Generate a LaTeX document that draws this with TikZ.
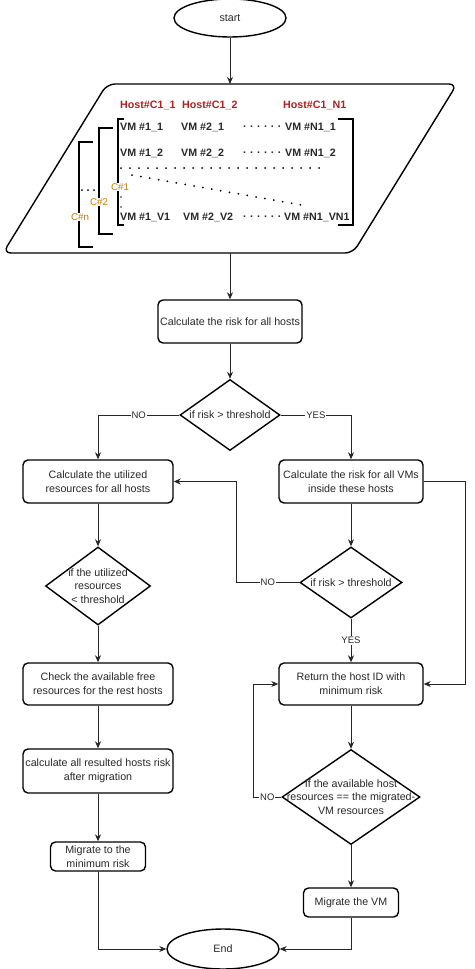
\documentclass[tikz,border=0pt]{standalone}
\usepackage{fontspec}
\setmainfont{Liberation Sans}
\usetikzlibrary{shapes.geometric,arrows.meta}
\definecolor{hostred}{RGB}{180,30,30}
\definecolor{corange}{RGB}{204,122,0}
\definecolor{txt}{RGB}{40,40,40}
\begin{document}
\fontsize{10.7}{13.7}\selectfont
\begin{tikzpicture}[x=1pt,y=-1pt,
  proc/.style={draw, line width=1.4pt, rounded corners=5pt, align=center, inner sep=0pt, text=txt},
  dia/.style={diamond, draw, line width=1.4pt, inner sep=0pt},
  term/.style={ellipse, draw, line width=1.4pt, inner sep=0pt, text=txt},
  conn/.style={line width=0.9pt, draw=black!85, -{Stealth[length=7pt,width=6pt]}},
  lbl/.style={fill=white, inner sep=1pt, text=txt, font=\fontsize{9.5}{11}\selectfont},
  dtext/.style={align=center, inner sep=0pt, text=txt},
  hdr/.style={anchor=west, inner sep=0pt, text=hostred, font=\bfseries},
  vmt/.style={anchor=west, inner sep=0pt, text=txt, font=\bfseries},
  clbl/.style={fill=white, inner sep=0.6pt, text=corange, font=\fontsize{9.8}{11}\selectfont},
  brk/.style={line width=1.6pt},
  dotl/.style={line width=2pt, line cap=round, dash pattern=on 0pt off 9pt}
]
\useasboundingbox (0,0) rectangle (474,969);

% start
\node[term, minimum width=112, minimum height=38] (start) at (230,18) {start};

% input parallelogram
\draw[line width=1.4pt, rounded corners=8pt] (107,84) -- (457,84) -- (353,253) -- (3,253) -- cycle;
\coordinate (ptop) at (230,84);
\coordinate (pbot) at (230,253);

% headers
\node[hdr] (h1) at (120,105) {Host\#C1\_1};
\node[hdr] (h2) at (182,105) {Host\#C1\_2};
\node[hdr] (h3) at (283,105) {Host\#C1\_N1};
% VM rows
\node[vmt] (v11) at (120,127) {VM \#1\_1};
\node[vmt] (v21) at (181,127) {VM \#2\_1};
\node[vmt] (e1) at (243,127) {. . . . . .};
\node[vmt] (vn1) at (285,127) {VM \#N1\_1};
\node[vmt] (v12) at (120,153) {VM \#1\_2};
\node[vmt] (v22) at (181,153) {VM \#2\_2};
\node[vmt] (e2) at (243,153) {. . . . . .};
\node[vmt] (vn2) at (285,153) {VM \#N1\_2};
\node[vmt] (v1v) at (120,217) {VM \#1\_V1};
\node[vmt] (v2v) at (183,217) {VM \#2\_V2};
\node[vmt] (e3) at (243,217) {. . . . . .};
\node[vmt] (vnv) at (284,217) {VM \#N1\_VN1};
% dotted lines
\draw[dotl] (121,168) -- (327,168);
\draw[dotl] (132,175) -- (307,206);
\draw[line width=2pt, line cap=round, dash pattern=on 0pt off 6pt] (82,190) -- (97,190);
\fill[txt] (121,197) circle (0.9);
\fill[txt] (121,207) circle (0.9);
% brackets
\draw[brk] (124,119) -- (118,119) -- (118,225) -- (124,225);
\draw[brk] (338,119) -- (353,119) -- (353,225) -- (338,225);
\draw[brk] (113,128) -- (99,128) -- (99,234) -- (113,234);
\draw[brk] (93,142) -- (79,142) -- (79,247) -- (93,247);
\node[clbl] (c1) at (120,187) {C\#1};
\node[clbl] (c2) at (99,202) {C\#2};
\node[clbl] (cn) at (80,217) {C\#n};

% main flow
\node[proc, minimum width=144, minimum height=43] (risk) at (230,321.5) {Calculate the risk for all hosts};
\node[dia, minimum width=100, minimum height=71] (d1) at (230,415) {};
\node[dtext] (d1t) at (d1) {if risk > threshold};

\node[proc, minimum width=150, minimum height=43] (util) at (98,481.5) {Calculate the utilized\\resources for all hosts};
\node[proc, minimum width=144, minimum height=43] (vms) at (351,481.5) {Calculate the risk for all VMs\\inside these hosts};

\node[dia, minimum width=105, minimum height=78] (d2l) at (98,586) {};
\node[dtext] (d2lt) at (d2l) {if the utilized\\resources\\< threshold};
\node[dia, minimum width=102, minimum height=71] (d2r) at (351,582.5) {};
\node[dtext] (d2rt) at (d2r) {if risk > threshold};

\node[proc, minimum width=150, minimum height=42] (free) at (98,684) {Check the available free\\resources for the rest hosts};
\node[proc, minimum width=144, minimum height=42] (ret) at (351,684) {Return the host ID with\\minimum risk};

\node[proc, minimum width=150, minimum height=44] (calc) at (98,771) {calculate all resulted hosts risk\\after migration};
\node[dia, minimum width=138, minimum height=95] (d3) at (351,797) {};
\node[dtext] (d3t) at (d3) {If the available host\\resources == the migrated-\\VM resources};

\node[proc, minimum width=95, minimum height=29] (mig) at (98,856.5) {Migrate to the\\minimum risk};
\node[proc, minimum width=95, minimum height=29] (mvm) at (351,902.5) {Migrate the VM};

\node[term, minimum width=112, minimum height=40] (end) at (223,949) {End};

% connectors
\draw[conn] (start) -- (ptop);
\draw[conn] (pbot) -- (risk);
\draw[conn] (risk) -- (d1);
\draw[conn] (d1.west) -| node[lbl, pos=0.25] {NO} (util.north);
\draw[conn] (d1.east) -| node[lbl, pos=0.25] {YES} (vms.north);
\draw[conn] (util) -- (d2l);
\draw[conn] (vms) -- (d2r);
\draw[conn] (d2r.west) -- node[lbl] {NO} ++(-63,0) |- (util.east);
\draw[conn] (d2r) -- node[lbl] {YES} (ret);
\draw[conn] (vms.east) -- ++(42,0) |- (ret.east);
\draw[conn] (d2l) -- (free);
\draw[conn] (free) -- (calc);
\draw[conn] (calc) -- (mig);
\draw[conn] (ret) -- (d3);
\draw[conn] (d3.west) -- node[lbl] {NO} ++(-28,0) |- (ret.west);
\draw[conn] (d3) -- (mvm);
\draw[conn] (mig) |- (end.west);
\draw[conn] (mvm) |- (end.east);
\end{tikzpicture}
\end{document}
